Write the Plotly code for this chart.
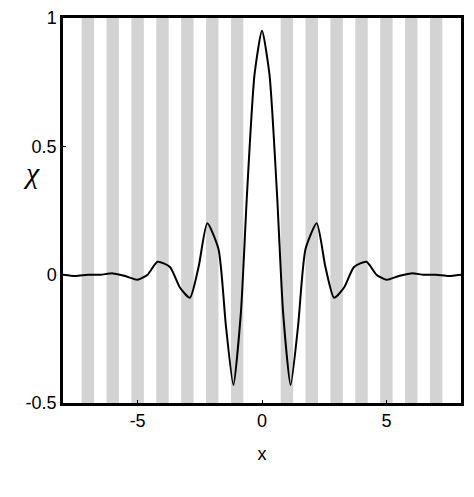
import plotly.graph_objects as go

# field profile (symmetric about x=0)
x_half = [0, 0.3, 0.6, 0.85, 1.15, 1.45, 1.75, 2.2, 2.55, 2.9, 3.3, 3.7, 4.2, 4.6, 5.0, 5.5, 6.0, 6.5, 7.0, 7.5, 8.0]
y_half = [0.95, 0.78, 0.32, -0.15, -0.43, -0.2, 0.1, 0.2, 0.03, -0.09, -0.05, 0.03, 0.05, 0.0, -0.02, -0.005, 0.005, 0.0, 0.0, -0.005, 0.0]

x_vals = [-v for v in x_half[::-1]] + x_half[1:]
y_vals = y_half[::-1] + y_half[1:]

stripe_centers = [-7, -6, -5, -4, -3, -2, -1, 1, 2, 3, 4, 5, 6, 7]

fig = go.Figure()
fig.add_trace(go.Scatter(x=x_vals, y=y_vals, mode="lines",
                         line=dict(color="black", width=2, shape="spline", smoothing=0.6),
                         showlegend=False))

for c in stripe_centers:
    fig.add_vrect(x0=c - 0.25, x1=c + 0.25, fillcolor="#d3d3d3", opacity=1,
                  line_width=0, layer="below")

axis = dict(showgrid=False, zeroline=False, showline=True, mirror=True,
            linecolor="black", linewidth=2.5, automargin=False,
            ticks="inside", ticklen=3, tickcolor="black",
            tickfont=dict(size=18, color="black", family="Arial"))

fig.update_layout(
    width=458, height=483,
    paper_bgcolor="white", plot_bgcolor="white",
    margin=dict(l=55, r=5, t=10, b=88),
    xaxis=dict(axis, range=[-8, 8], tickvals=[-5, 0, 5], ticktext=["-5", "0", "5"],
               title=dict(text="x", font=dict(size=18, color="black", family="Arial"), standoff=18)),
    yaxis=dict(axis, range=[-0.5, 1], tickvals=[-0.5, 0, 0.5, 1],
               ticktext=["-0.5", "0", "0.5", "1"]),
    annotations=[dict(text="<i>χ</i>", xref="paper", yref="paper", x=-0.105, y=0.6,
                      showarrow=False, font=dict(size=30, color="black", family="Times New Roman"))],
)

fig.write_html("out.html")
